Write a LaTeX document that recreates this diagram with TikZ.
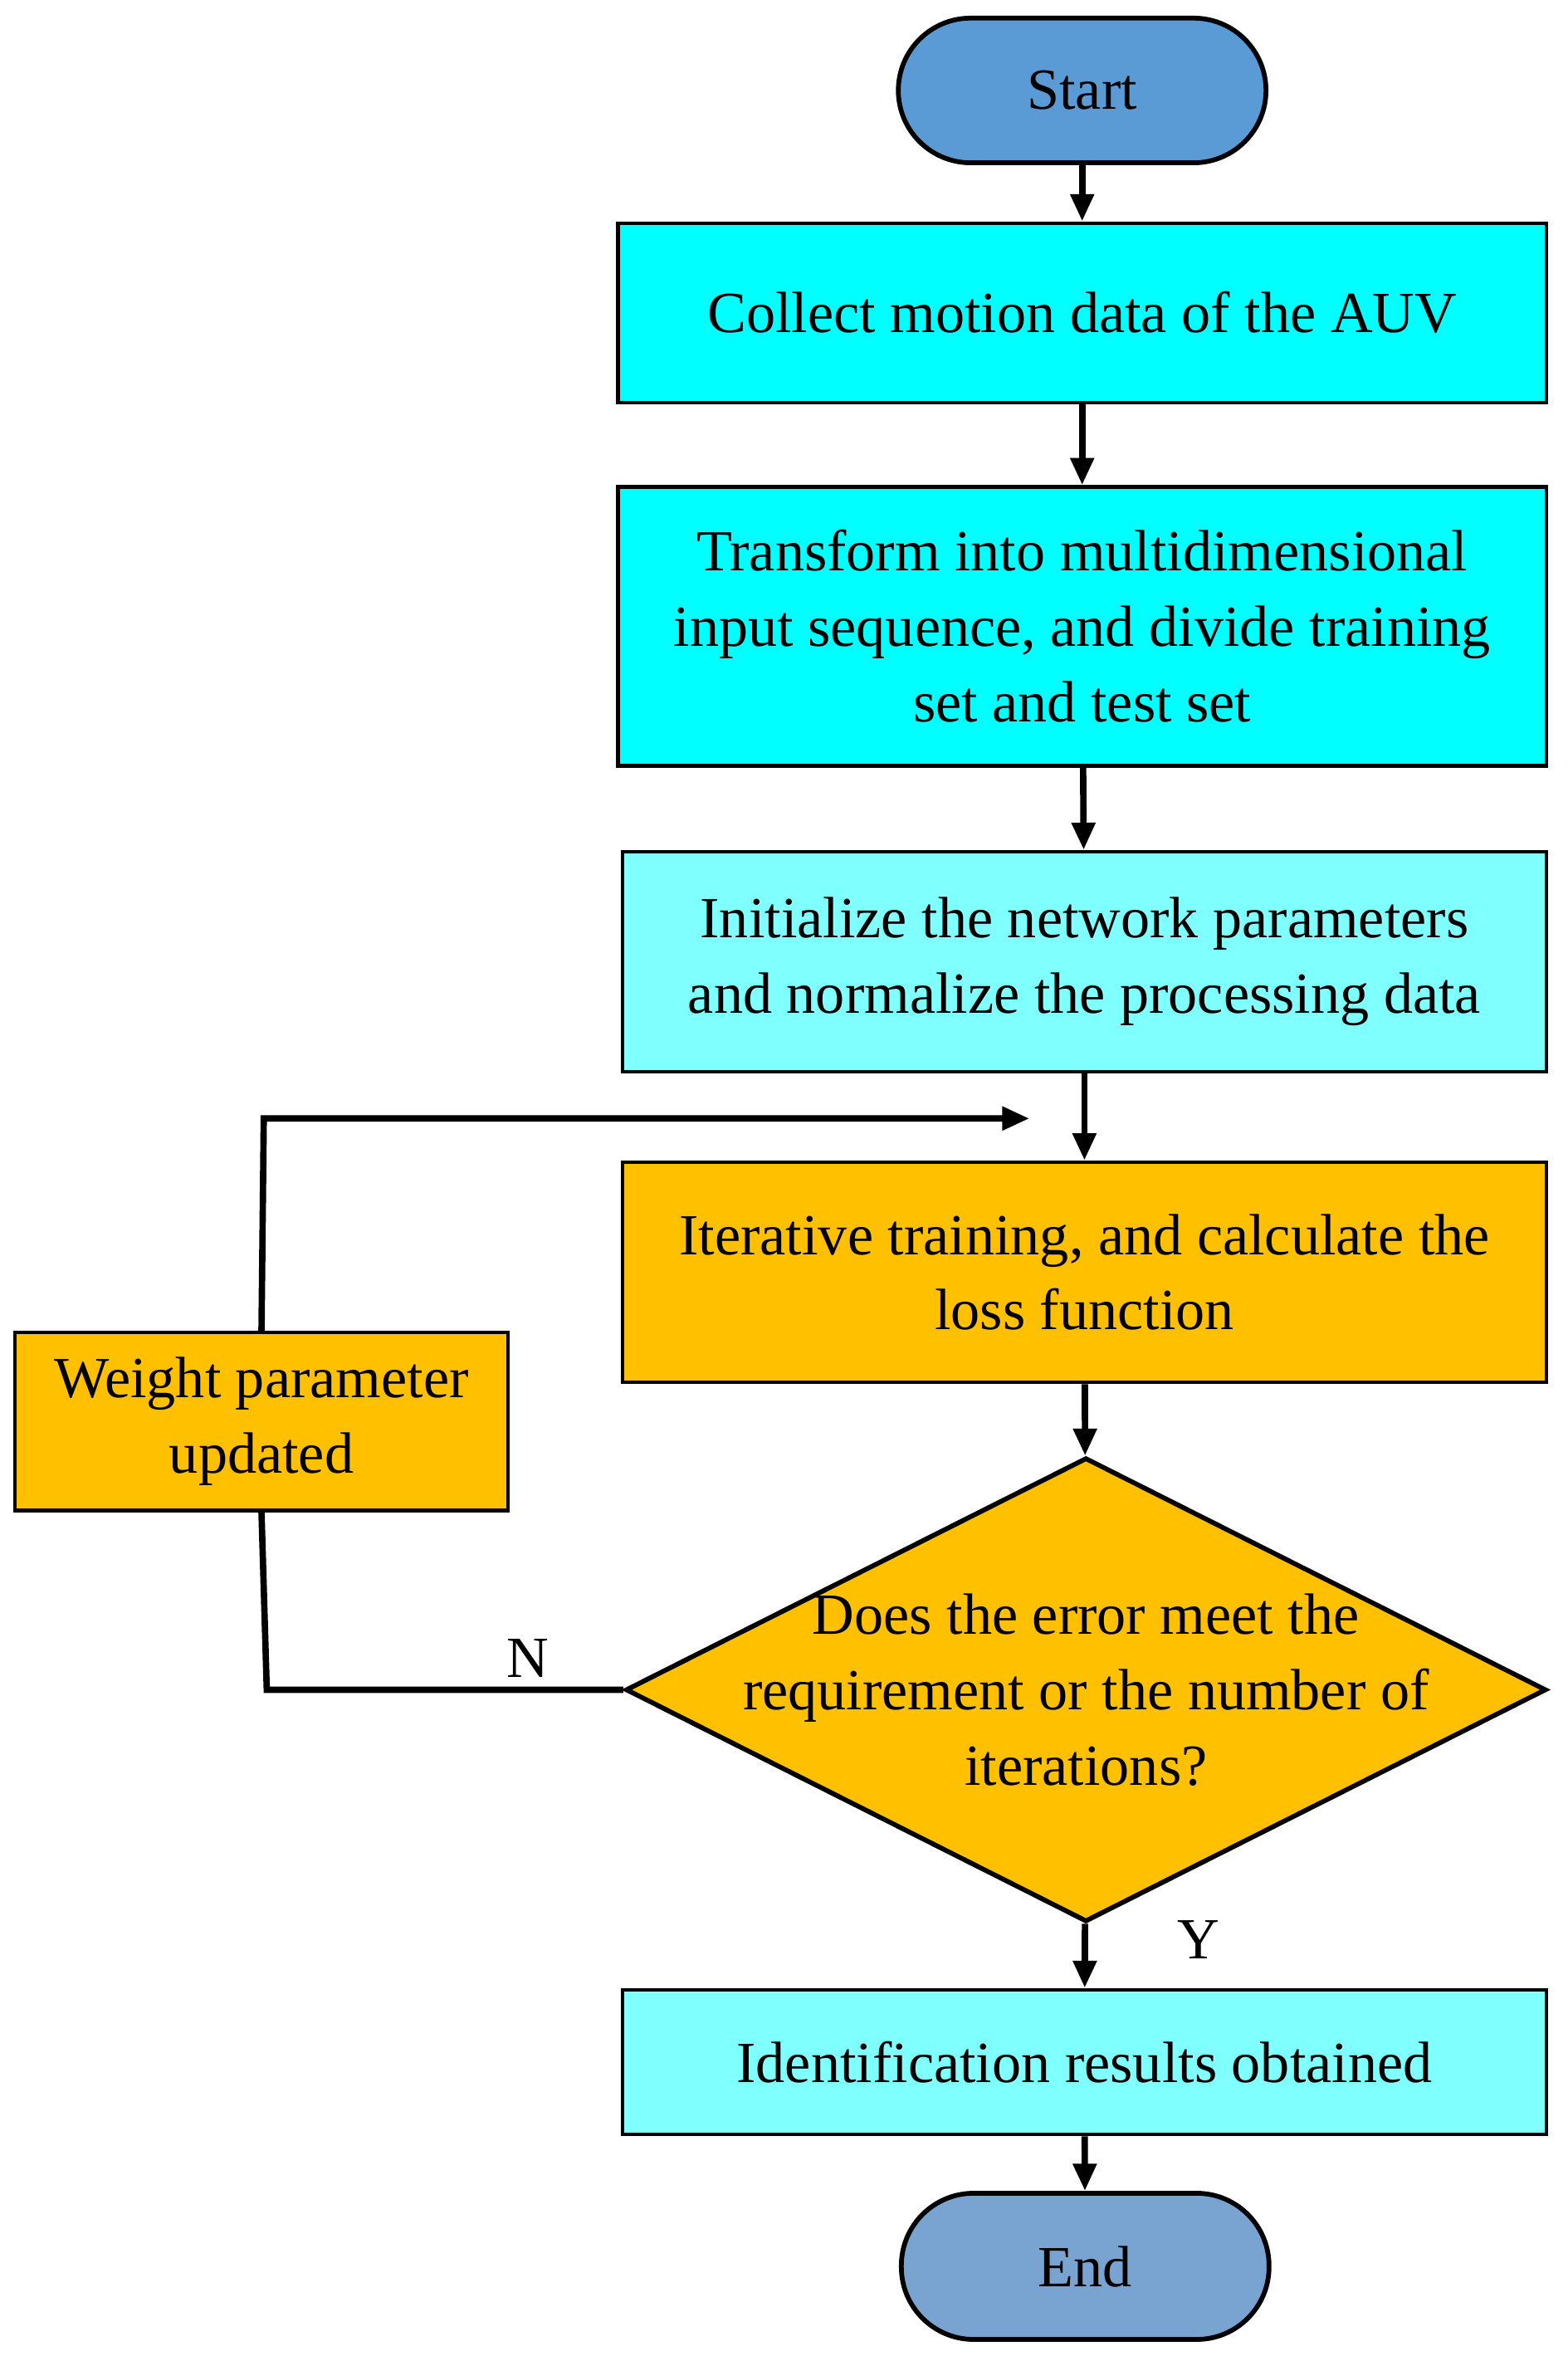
\documentclass[tikz,border=0pt]{standalone}
\usepackage{fontspec}
\setmainfont{Liberation Serif}
\usetikzlibrary{shapes.geometric,arrows.meta}
\definecolor{startblue}{HTML}{5B9BD5}
\definecolor{endblue}{HTML}{79A3D0}
\definecolor{cyanA}{HTML}{00FFFF}
\definecolor{cyanB}{HTML}{80FFFF}
\definecolor{orng}{HTML}{FFC000}
\begin{document}
\begin{tikzpicture}[x=0.02cm,y=-0.02cm,
  every node/.style={font=\fontsize{22}{28.5}\selectfont},
  box/.style={draw,line width=1.4pt,align=center,inner sep=0pt},
  pill/.style={draw,line width=1.8pt,rounded corners=0.96cm,inner sep=0pt},
  line/.style={line width=2.4pt},
  arr/.style={line, -{Triangle[length=0.36cm,width=0.3cm]}}]
\useasboundingbox (0,0) rectangle (1040,1563);
\node[pill,fill=startblue,minimum width=4.88cm,minimum height=1.92cm] (start) at (718,60) {Start};
\node[box,fill=cyanA,minimum width=12.32cm,minimum height=2.38cm] (b1) at (718,207.5) {Collect motion data of the AUV};
\node[box,fill=cyanA,minimum width=12.32cm,minimum height=3.7cm] (b2) at (718,415.5) {Transform into multidimensional\\input sequence, and divide training\\set and test set};
\node[box,fill=cyanB,minimum width=12.26cm,minimum height=2.92cm] (b3) at (719.5,638) {Initialize the network parameters\\and normalize the processing data};
\node[box,fill=orng,minimum width=12.26cm,minimum height=2.92cm] (b4) at (719.5,844) {Iterative training, and calculate the\\loss function};
\node[box,fill=orng,diamond,aspect=1.98,minimum width=12.22cm,minimum height=6.16cm,line width=1.8pt] (d) at (720.5,1121) {};
\node[align=center] at (720.5,1121) {Does the error meet the\\requirement or the number of\\iterations?};
\node[box,fill=cyanB,minimum width=12.26cm,minimum height=1.92cm] (b5) at (719.5,1368) {Identification results obtained};
\node[pill,fill=endblue,minimum width=4.88cm,minimum height=1.94cm] (end) at (720,1503.5) {End};
\node[box,fill=orng,minimum width=6.54cm,minimum height=2.36cm] (w) at (173.5,943) {Weight parameter\\updated};
\coordinate (c1) at (177,1121);
\coordinate (c2) at (175,742);
\coordinate (c3) at (683,742);
\draw[arr] (start) -- (b1);
\draw[arr] (b1) -- (b2);
\draw[arr] (b2) -- (b3);
\draw[arr] (b3) -- (b4);
\draw[arr] (b4) -- (d);
\draw[arr] (d) -- (b5);
\draw[arr] (b5) -- (end);
\draw[line] (d.west) -- (c1) -- (w.south);
\draw[arr] (w.north) -- (c2) -- (c3);
\node at (350,1100) {N};
\node at (795,1287) {Y};
\end{tikzpicture}
\end{document}
